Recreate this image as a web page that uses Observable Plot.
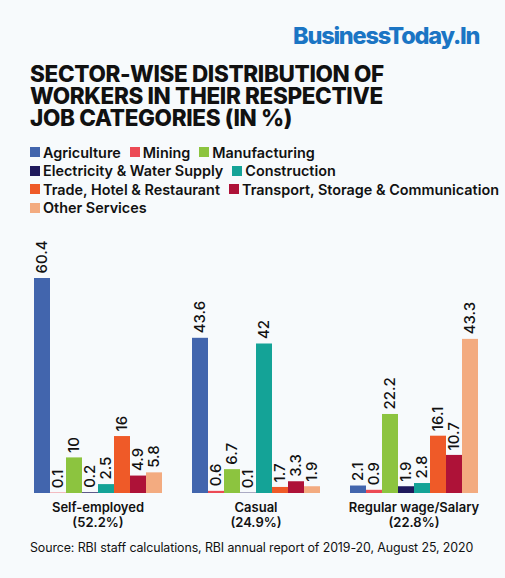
<!DOCTYPE html>
<html>
<head>
<meta charset="utf-8">
<script src="https://cdn.jsdelivr.net/npm/d3@7"></script>
<script src="https://cdn.jsdelivr.net/npm/@observablehq/plot@0.6"></script>
<style>
  body { margin: 0; background: #f7fafc; font-family: Inter, "Liberation Sans", sans-serif; }
  #page { position: relative; width: 505px; height: 578px; overflow: hidden; }
  #logo { position: absolute; left: 293px; top: 21px; font-size: 23.5px; font-weight: 800; color: #1b75c4; letter-spacing: -1.2px; }
  #title { position: absolute; left: 30px; top: 63px; font-size: 22.5px; line-height: 22px; font-weight: 800; letter-spacing: -0.35px; color: #111; white-space: nowrap; }
  #legend { position: absolute; left: 30px; top: 143px; width: 475px; font-size: 14.4px; font-weight: 600; color: #111; white-space: nowrap; }
  .row { display: flex; height: 18.5px; align-items: center; }
  .item { display: flex; align-items: center; margin-right: 9px; flex-shrink: 0; }
  .sw { width: 10px; height: 10px; margin-right: 3px; }
  #chart { position: absolute; left: 0; top: 222px; }
  #source { position: absolute; left: 30px; top: 540px; font-size: 12.4px; color: #111; letter-spacing: -0.1px; white-space: nowrap; }
</style>
</head>
<body>
<div id="page">
  <div id="logo">BusinessToday.In</div>
  <div id="title">SECTOR-WISE DISTRIBUTION OF<br>WORKERS IN THEIR RESPECTIVE<br>JOB CATEGORIES (IN %)</div>
  <div id="legend"></div>
  <div id="chart"></div>
  <div id="source">Source: RBI staff calculations, RBI annual report of 2019-20, August 25, 2020</div>
</div>
<script>
// datos
const sectors = ["Agriculture", "Mining", "Manufacturing", "Electricity & Water Supply",
  "Construction", "Trade, Hotel & Restaurant", "Transport, Storage & Communication", "Other Services"]
const colors = ["#4265ad", "#ec4a55", "#8cc43f", "#1f1a5c", "#14a397", "#ef5a28", "#ae1238", "#f3ab80"]
const categories = ["Self-employed", "Casual", "Regular wage/Salary"]
const shares = ["52.2%", "24.9%", "22.8%"]
const selfEmployed = [60.4, 0.1, 10, 0.2, 2.5, 16, 4.9, 5.8]
const casual = [43.6, 0.6, 6.7, 0.1, 42, 1.7, 3.3, 1.9]
const regular = [2.1, 0.9, 22.2, 1.9, 2.8, 16.1, 10.7, 43.3]

//leyenda en filas
const legendRows = [[0, 1, 2], [3, 4], [5, 6], [7]]
const legend = d3.select('#legend')
legendRows.forEach(r => {
  const row = legend.append('div').attr('class', 'row')
  r.forEach(i => {
    const it = row.append('div').attr('class', 'item')
    it.append('div').attr('class', 'sw').style('background', colors[i])
    it.append('span').text(sectors[i])
  })
})

let data = []
;[selfEmployed, casual, regular].forEach((vals, c) => {
  vals.forEach((v, i) => data.push({cat: categories[c], sector: sectors[i], value: v}))
})

let chart = Plot.plot({
  width: 505,
  height: 311,
  marginLeft: 30,
  marginRight: 25,
  marginTop: 56,
  marginBottom: 40,
  style: {background: "transparent", fontFamily: "Inter, 'Liberation Sans', sans-serif", color: "#111"},
  fx: {domain: categories, padding: 0.16, label: null},
  x: {domain: sectors, padding: 0, axis: null},
  y: {domain: [0, 60.4], axis: null},
  color: {domain: sectors, range: colors},
  marks: [
    Plot.barY(data, {fx: "cat", x: "sector", y: "value", fill: "sector"}),
    Plot.text(data, {fx: "cat", x: "sector", y: "value", text: d => String(d.value),
      rotate: -90, textAnchor: "start", dy: -5, fontSize: 15, fontWeight: 500, fill: "#111"}),
    Plot.axisFx({anchor: "bottom", tickSize: 0, tickPadding: 7, fontSize: 13, fontWeight: 600, lineHeight: 1.2,
      label: null, tickFormat: d => d + "\n(" + shares[categories.indexOf(d)] + ")"})
  ]
})

d3.select('#chart').append(() => chart)
</script>
</body>
</html>
